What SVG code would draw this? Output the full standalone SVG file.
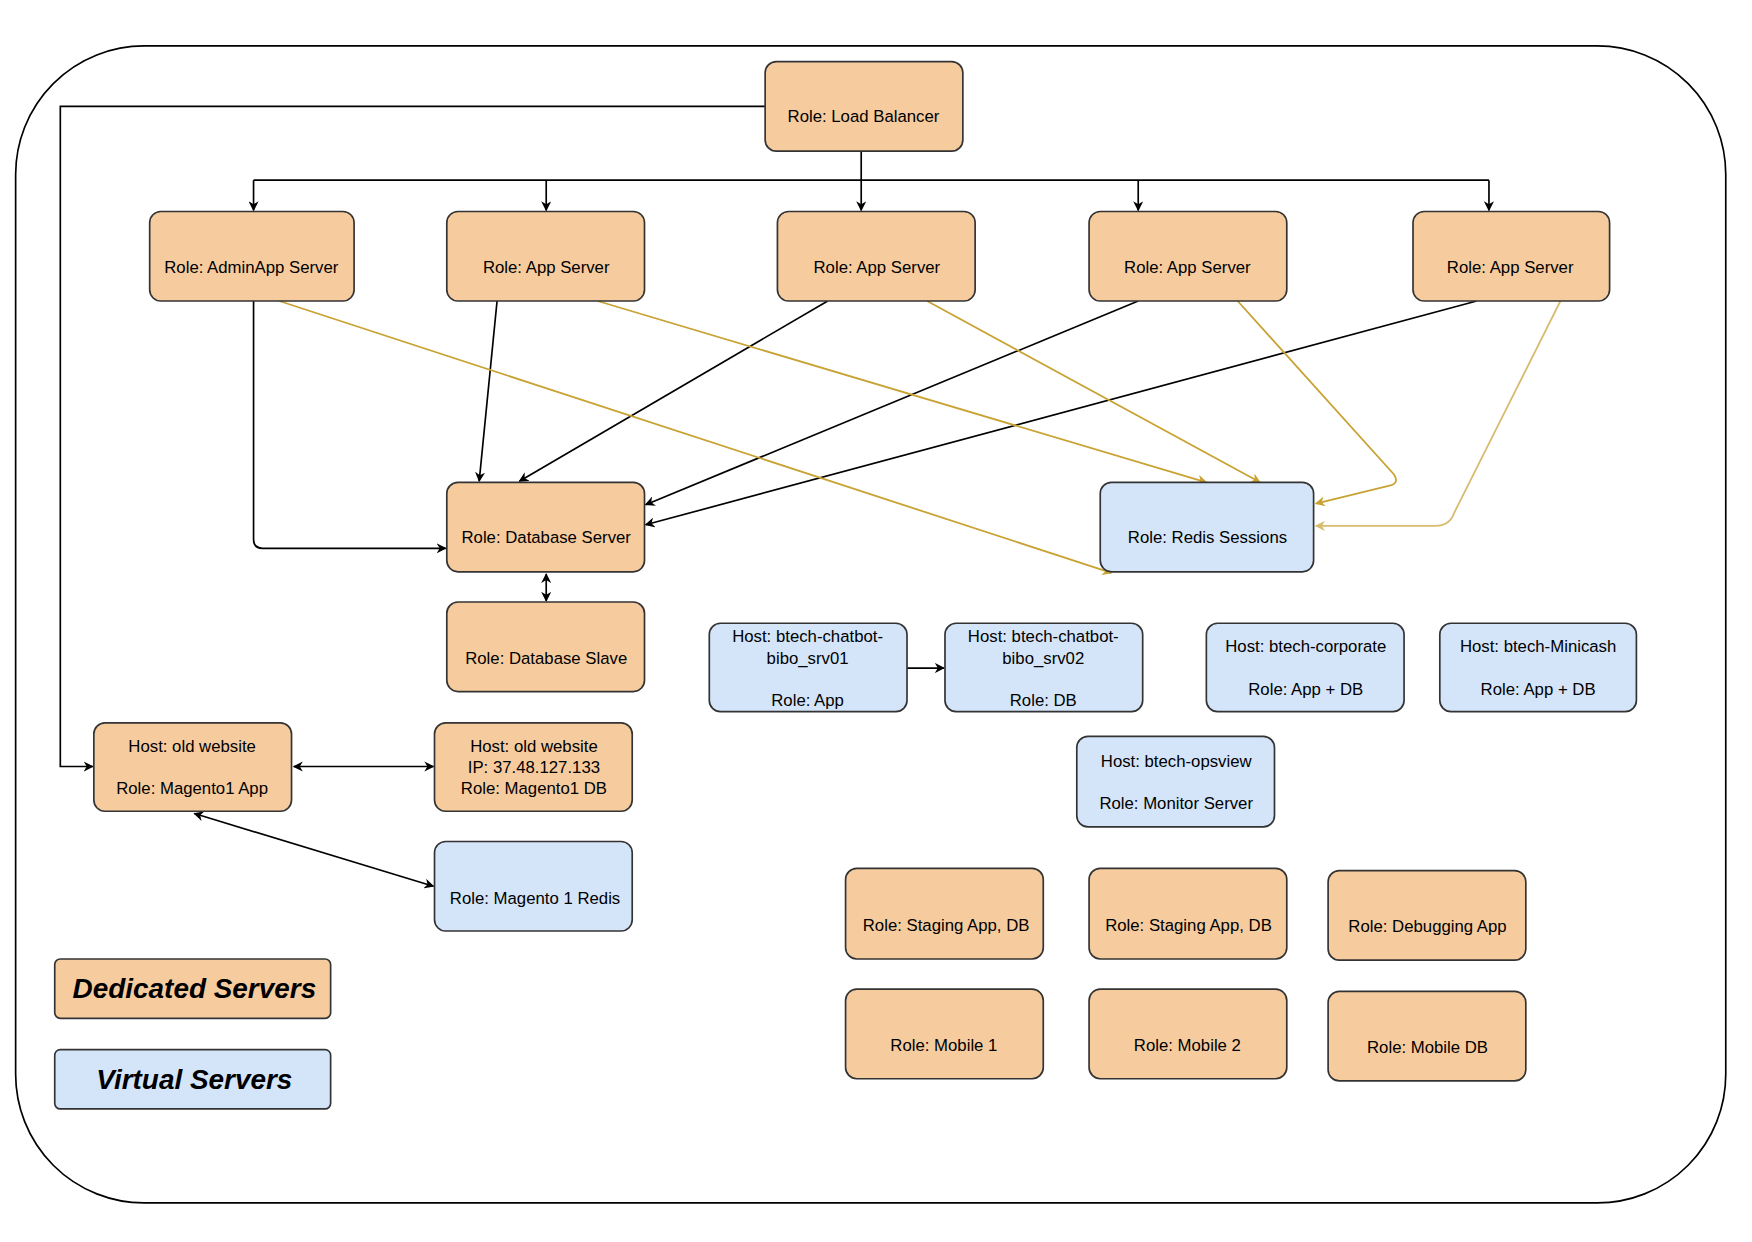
<svg xmlns="http://www.w3.org/2000/svg" width="1752" height="1242" viewBox="0 0 1752 1242">
<defs>
<marker id="ab" viewBox="0 0 10 10" refX="9" refY="5" markerWidth="9" markerHeight="9" orient="auto-start-reverse" markerUnits="userSpaceOnUse"><path d="M0,0 L10,5 L0,10 L3,5 Z" fill="#000"/></marker>
<marker id="ag" viewBox="0 0 10 10" refX="9" refY="5" markerWidth="9" markerHeight="9" orient="auto" markerUnits="userSpaceOnUse"><path d="M0,0 L10,5 L0,10 L3,5 Z" fill="#C8A232"/></marker>
<marker id="al" viewBox="0 0 10 10" refX="9" refY="5" markerWidth="9" markerHeight="9" orient="auto" markerUnits="userSpaceOnUse"><path d="M0,0 L10,5 L0,10 L3,5 Z" fill="#D6BC6E"/></marker>
</defs>
<style>
.o{fill:#F6CC9F;stroke:#333;stroke-width:1.5}
.b{fill:#D4E5FA;stroke:#333;stroke-width:1.5}
text{font-family:"Liberation Sans",Arial,sans-serif;font-size:15px;fill:#000;text-anchor:middle}
.lg{font-size:25px;font-weight:bold;font-style:italic}
.k{fill:none;stroke:#000;stroke-width:1.5}
.g{fill:none;stroke:#C8A232;stroke-width:1.6}
.l{fill:none;stroke:#D6BC6E;stroke-width:1.6}
</style>
<rect width="1752" height="1242" fill="#fff"/>
<g transform="scale(1.117,1.119)">
<rect x="14" y="41" width="1531" height="1034" rx="115" fill="none" stroke="#000" stroke-width="1.5"/>
<g id="connectors">
<path class="k" d="M771,135 V161 M227,161 H1333 M227,161 V188" marker-end="url(#ab)"/>
<path class="k" d="M489,161 V188" marker-end="url(#ab)"/>
<path class="k" d="M771,161 V188" marker-end="url(#ab)"/>
<path class="k" d="M1019,161 V188" marker-end="url(#ab)"/>
<path class="k" d="M1333,161 V188" marker-end="url(#ab)"/>
<path class="k" d="M685,95 H54 V685 H83" marker-end="url(#ab)"/>
<path class="k" d="M227,269 V482 Q227,490 235,490 H399" marker-end="url(#ab)"/>
<path class="k" d="M445,269 L429,430" marker-end="url(#ab)"/>
<path class="k" d="M741,269 L465,430" marker-end="url(#ab)"/>
<path class="k" d="M1019,269 L578,451" marker-end="url(#ab)"/>
<path class="k" d="M1322,269 L578,469" marker-end="url(#ab)"/>
<path class="k" d="M489,513 V537" marker-start="url(#ab)" marker-end="url(#ab)"/>
<path class="k" d="M812,597 H845" marker-end="url(#ab)"/>
<path class="k" d="M263,685 H388" marker-start="url(#ab)" marker-end="url(#ab)"/>
<path class="k" d="M174,727 L388,792" marker-start="url(#ab)" marker-end="url(#ab)"/>
<path class="g" d="M250,269 L995,512" marker-end="url(#ag)"/>
<path class="g" d="M535,269 L1080,431" marker-end="url(#ag)"/>
<path class="g" d="M830,269 L1128,431" marker-end="url(#ag)"/>
<path class="g" d="M1108,269 L1248,424 Q1253,432 1244,434 L1178,450" marker-end="url(#ag)"/>
<path class="l" d="M1397,269 L1302,458 Q1298,470 1285,470 H1178" marker-end="url(#al)"/>
</g>
<g id="lb"><rect class="o" x="685" y="55" width="177" height="80" rx="10"/><text x="773" y="109">Role: Load Balancer</text></g>
<g id="admin"><rect class="o" x="134" y="189" width="183" height="80" rx="10"/><text x="225" y="244">Role: AdminApp Server</text></g>
<g id="app1"><rect class="o" x="400" y="189" width="177" height="80" rx="10"/><text x="489" y="244">Role: App Server</text></g>
<g id="app2"><rect class="o" x="696" y="189" width="177" height="80" rx="10"/><text x="785" y="244">Role: App Server</text></g>
<g id="app3"><rect class="o" x="975" y="189" width="177" height="80" rx="10"/><text x="1063" y="244">Role: App Server</text></g>
<g id="app4"><rect class="o" x="1265" y="189" width="176" height="80" rx="10"/><text x="1352" y="244">Role: App Server</text></g>
<g id="db"><rect class="o" x="400" y="431" width="177" height="80" rx="10"/><text x="489" y="485">Role: Database Server</text></g>
<g id="redis"><rect class="b" x="985" y="431" width="191" height="80" rx="10"/><text x="1081" y="485">Role: Redis Sessions</text></g>
<g id="slave"><rect class="o" x="400" y="538" width="177" height="80" rx="10"/><text x="489" y="593">Role: Database Slave</text></g>
<g id="chat1"><rect class="b" x="635" y="557" width="177" height="79" rx="10"/><text x="723" y="574">Host: btech-chatbot-</text><text x="723" y="593">bibo_srv01</text><text x="723" y="631">Role: App</text></g>
<g id="chat2"><rect class="b" x="846" y="557" width="177" height="79" rx="10"/><text x="934" y="574">Host: btech-chatbot-</text><text x="934" y="593">bibo_srv02</text><text x="934" y="631">Role: DB</text></g>
<g id="corp"><rect class="b" x="1080" y="557" width="177" height="79" rx="10"/><text x="1169" y="583">Host:  btech-corporate</text><text x="1169" y="621">Role: App + DB</text></g>
<g id="mini"><rect class="b" x="1289" y="557" width="176" height="79" rx="10"/><text x="1377" y="583">Host:  btech-Minicash</text><text x="1377" y="621">Role: App + DB</text></g>
<g id="ops"><rect class="b" x="964" y="658" width="177" height="81" rx="10"/><text x="1053" y="685">Host: btech-opsview</text><text x="1053" y="723">Role: Monitor Server</text></g>
<g id="oldapp"><rect class="o" x="84" y="646" width="177" height="79" rx="10"/><text x="172" y="672">Host: old website</text><text x="172" y="710">Role: Magento1 App</text></g>
<g id="olddb"><rect class="o" x="389" y="646" width="177" height="79" rx="10"/><text x="478" y="672">Host: old website</text><text x="478" y="691">IP: 37.48.127.133</text><text x="478" y="710">Role: Magento1 DB</text></g>
<g id="m1redis"><rect class="b" x="389" y="752" width="177" height="80" rx="10"/><text x="479" y="808">Role: Magento 1 Redis</text></g>
<g id="stg1"><rect class="o" x="757" y="776" width="177" height="81" rx="10"/><text x="847" y="832">Role: Staging App, DB</text></g>
<g id="stg2"><rect class="o" x="975" y="776" width="177" height="81" rx="10"/><text x="1064" y="832">Role: Staging App, DB</text></g>
<g id="dbg"><rect class="o" x="1189" y="778" width="177" height="80" rx="10"/><text x="1278" y="833">Role: Debugging App</text></g>
<g id="mob1"><rect class="o" x="757" y="884" width="177" height="80" rx="10"/><text x="845" y="939">Role: Mobile 1</text></g>
<g id="mob2"><rect class="o" x="975" y="884" width="177" height="80" rx="10"/><text x="1063" y="939">Role: Mobile 2</text></g>
<g id="mobdb"><rect class="o" x="1189" y="886" width="177" height="80" rx="10"/><text x="1278" y="941">Role: Mobile DB</text></g>
<g id="legend-ded"><rect class="o" x="49" y="857" width="247" height="53" rx="5"/><text class="lg" x="174" y="892">Dedicated Servers</text></g>
<g id="legend-virt"><rect class="b" x="49" y="938" width="247" height="53" rx="5"/><text class="lg" x="174" y="973">Virtual Servers</text></g>
</g>
</svg>
